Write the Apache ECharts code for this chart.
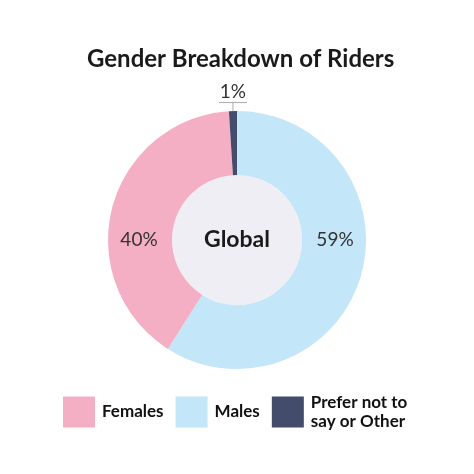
<!DOCTYPE html>
<html>
<head>
<meta charset="utf-8">
<script src="https://cdn.jsdelivr.net/npm/echarts@6/dist/echarts.min.js"></script>
<style>html,body{margin:0;padding:0;background:#fff}#c{width:474px;height:474px}</style>
</head>
<body>
<div id="c"></div>
<script>
var categories = ['Males', 'Females', 'Prefer not to\nsay or Other'];
var values = [59, 40, 1];
var legendOrder = ['Females', 'Males', 'Prefer not to\nsay or Other'];
var colors = ['#c4e6f9', '#f4afc5', '#434c6b'];
var centerLabel = 'Global';
var titleText = 'Gender Breakdown of Riders';

var CX = 237, CY = 240, R_IN = 65, R_OUT = 129;
var total = values.reduce(function (a, b) { return a + b; }, 0);

var chart = echarts.init(document.getElementById('c'));
var pieData = categories.map(function (c, i) {
  return { name: c, value: values[i], itemStyle: { color: colors[i] } };
});

function midAngle(idx) {
  var s = 0;
  for (var i = 0; i < idx; i++) s += values[i];
  return (s + values[idx] / 2) / total * 2 * Math.PI;
}

chart.setOption({
  animation: false,
  title: {
    text: titleText,
    left: 87,
    top: 47,
    padding: 0,
    textStyle: { fontFamily: 'Lato', fontWeight: 'bold', fontSize: 24, color: '#1a1a1a' }
  },
  legend: {
    data: legendOrder,
    left: 63,
    top: 393,
    padding: 0,
    itemWidth: 32,
    itemHeight: 31,
    itemGap: 12,
    icon: 'rect',
    textStyle: { fontFamily: 'Lato', fontWeight: 'bold', fontSize: 17, color: '#111', lineHeight: 19, padding: [0, 0, 0, 2] },
    selectedMode: false
  },
  series: [
    {
      type: 'pie',
      silent: true,
      center: [CX, CY],
      radius: [0, R_IN],
      data: [{ value: 1, name: '', itemStyle: { color: '#efeef4' } }],
      label: { show: true, position: 'center', formatter: centerLabel, fontFamily: 'Lato', fontWeight: 'bold', fontSize: 23, color: '#1a1a1a' },
      labelLine: { show: false },
      tooltip: { show: false }
    },
    {
      type: 'pie',
      center: [CX, CY],
      radius: [R_IN, R_OUT],
      startAngle: 90,
      clockwise: true,
      data: pieData,
      label: {
        show: true,
        position: 'inside',
        fontFamily: 'Lato',
        fontSize: 19,
        color: '#333',
        formatter: function (p) {
          if (p.dataIndex === 2) return '{a|' + p.value + '%}\n{u|}\n{v|}';
          return p.value + '%';
        },
        rich: {
          a: { fontFamily: 'Lato', fontSize: 19, color: '#333', align: 'center', lineHeight: 20 },
          u: { width: 28, height: 1, backgroundColor: '#aaa', align: 'center', lineHeight: 1 },
          v: { width: 1, height: 8, backgroundColor: '#aaa', align: 'center', lineHeight: 8 }
        }
      },
      labelLine: { show: false },
      labelLayout: function (p) {
        var i = p.dataIndex;
        var rm = (R_IN + R_OUT) / 2;
        if (i === 0) return { x: CX + rm + 1, y: CY, align: 'center', verticalAlign: 'middle' };
        if (i === 1) return { x: CX - rm - 1, y: CY, align: 'center', verticalAlign: 'middle' };
        var a = midAngle(i);
        return { x: CX + R_OUT * Math.sin(a), y: CY - R_OUT * Math.cos(a), align: 'center', verticalAlign: 'bottom' };
      }
    }
  ]
});
</script>
</body>
</html>
